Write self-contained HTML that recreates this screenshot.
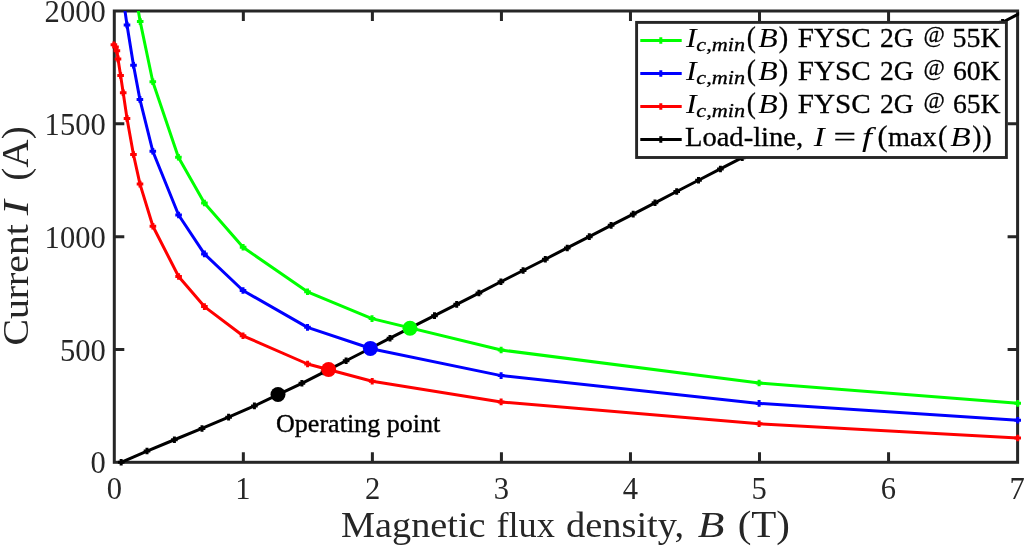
<!DOCTYPE html>
<html lang="en"><head><meta charset="utf-8"><title>Load-line and critical current</title>
<style>html,body{margin:0;padding:0;background:#fff}svg{display:block}</style></head>
<body>
<svg width="1025" height="547" viewBox="0 0 1025 547">
<rect width="1025" height="547" fill="#fff"/>
<defs><clipPath id="ax"><rect x="114.30" y="11.00" width="904.80" height="453.30"/></clipPath></defs>
<path d="M243.34 462.30V452.30M243.34 11.00V21.00M372.39 462.30V452.30M372.39 11.00V21.00M501.43 462.30V452.30M501.43 11.00V21.00M630.47 462.30V452.30M630.47 11.00V21.00M759.51 462.30V452.30M759.51 11.00V21.00M888.56 462.30V452.30M888.56 11.00V21.00M114.30 349.48H124.30M1017.60 349.48H1007.60M114.30 236.65H124.30M1017.60 236.65H1007.60M114.30 123.82H124.30M1017.60 123.82H1007.60" fill="none" stroke="#262626" stroke-width="3.00"/>
<rect x="114.30" y="11.00" width="903.30" height="451.30" fill="none" stroke="#262626" stroke-width="3.00"/>
<g font-family="'Liberation Serif', 'Times New Roman', serif">
<text x="106.66" y="499.40" font-size="31.50" textLength="15.28" lengthAdjust="spacingAndGlyphs" fill="#262626">0</text>
<text x="235.25" y="499.40" font-size="31.50" textLength="15.28" lengthAdjust="spacingAndGlyphs" fill="#262626">1</text>
<text x="364.90" y="499.40" font-size="31.50" textLength="15.28" lengthAdjust="spacingAndGlyphs" fill="#262626">2</text>
<text x="493.64" y="499.40" font-size="31.50" textLength="15.28" lengthAdjust="spacingAndGlyphs" fill="#262626">3</text>
<text x="622.76" y="499.40" font-size="31.50" textLength="15.28" lengthAdjust="spacingAndGlyphs" fill="#262626">4</text>
<text x="751.57" y="499.40" font-size="31.50" textLength="15.28" lengthAdjust="spacingAndGlyphs" fill="#262626">5</text>
<text x="880.69" y="499.40" font-size="31.50" textLength="15.28" lengthAdjust="spacingAndGlyphs" fill="#262626">6</text>
<text x="1009.43" y="499.40" font-size="31.50" textLength="15.28" lengthAdjust="spacingAndGlyphs" fill="#262626">7</text>
<text x="90.44" y="473.40" font-size="31.50" textLength="15.28" lengthAdjust="spacingAndGlyphs" fill="#262626">0</text>
<text x="59.89" y="360.58" font-size="31.50" textLength="45.83" lengthAdjust="spacingAndGlyphs" fill="#262626">500</text>
<text x="44.61" y="247.75" font-size="31.50" textLength="61.11" lengthAdjust="spacingAndGlyphs" fill="#262626">1000</text>
<text x="44.61" y="134.92" font-size="31.50" textLength="61.11" lengthAdjust="spacingAndGlyphs" fill="#262626">1500</text>
<text x="44.61" y="22.10" font-size="31.50" textLength="61.11" lengthAdjust="spacingAndGlyphs" fill="#262626">2000</text>
</g>
<g clip-path="url(#ax)">
<polyline points="136.40,0.00 140.20,21.60 152.80,81.80 178.40,157.30 204.40,203.00 243.10,247.30 307.50,291.80 372.00,318.60 501.10,350.00 759.10,383.00 1017.70,403.35" fill="none" stroke="#00ff00" stroke-width="3.00" stroke-linejoin="round"/>
<polyline points="123.40,0.00 127.00,25.00 133.50,65.20 139.90,99.40 152.80,151.25 178.60,215.00 204.40,253.90 243.00,290.50 307.50,327.35 372.40,349.00 501.10,375.60 759.10,403.40 1017.70,420.25" fill="none" stroke="#0000ff" stroke-width="3.00" stroke-linejoin="round"/>
<polyline points="113.90,44.80 115.50,47.00 116.90,50.80 118.00,58.90 120.60,75.50 123.20,92.70 127.00,118.40 133.45,154.50 140.00,184.10 152.90,226.30 178.60,276.50 204.40,306.60 243.00,335.80 307.60,364.00 372.20,381.25 501.10,401.90 759.10,423.75 1017.70,438.00" fill="none" stroke="#ff0000" stroke-width="3.00" stroke-linejoin="round"/>
<polyline points="121.15,462.30 147.00,451.02 174.40,439.74 202.00,428.45 228.60,417.17 254.40,405.89 278.00,394.61 301.90,383.32 324.00,372.04 346.10,360.76 368.10,349.48 390.00,338.19 412.20,326.91 434.50,315.63 456.70,304.35 478.90,293.06 500.90,281.78 523.10,270.50 545.30,259.22 567.25,247.93 589.30,236.65 611.10,225.37 633.20,214.09 655.00,202.80 676.70,191.52 698.50,180.24 720.40,168.95 742.20,157.67 763.90,146.39 785.60,135.11 807.30,123.82 829.00,112.54 850.70,101.26 872.40,89.98 894.10,78.69 915.80,67.41 937.50,56.13 959.20,44.85 980.90,33.56 1002.60,22.28 1024.30,11.00" fill="none" stroke="#000000" stroke-width="3.00" stroke-linejoin="round"/>
</g>
<path d="M136.90 21.60H143.50M140.20 18.30V24.90M149.50 81.80H156.10M152.80 78.50V85.10M175.10 157.30H181.70M178.40 154.00V160.60M201.10 203.00H207.70M204.40 199.70V206.30M239.80 247.30H246.40M243.10 244.00V250.60M304.20 291.80H310.80M307.50 288.50V295.10M368.70 318.60H375.30M372.00 315.30V321.90M497.80 350.00H504.40M501.10 346.70V353.30M755.80 383.00H762.40M759.10 379.70V386.30M1014.40 403.35H1021.00M1017.70 400.05V406.65" fill="none" stroke="#00ff00" stroke-width="3.00"/>
<path d="M123.70 25.00H130.30M127.00 21.70V28.30M130.20 65.20H136.80M133.50 61.90V68.50M136.60 99.40H143.20M139.90 96.10V102.70M149.50 151.25H156.10M152.80 147.95V154.55M175.30 215.00H181.90M178.60 211.70V218.30M201.10 253.90H207.70M204.40 250.60V257.20M239.70 290.50H246.30M243.00 287.20V293.80M304.20 327.35H310.80M307.50 324.05V330.65M369.10 349.00H375.70M372.40 345.70V352.30M497.80 375.60H504.40M501.10 372.30V378.90M755.80 403.40H762.40M759.10 400.10V406.70M1014.40 420.25H1021.00M1017.70 416.95V423.55" fill="none" stroke="#0000ff" stroke-width="3.00"/>
<path d="M110.60 44.80H117.20M113.90 41.50V48.10M112.20 47.00H118.80M115.50 43.70V50.30M113.60 50.80H120.20M116.90 47.50V54.10M114.70 58.90H121.30M118.00 55.60V62.20M117.30 75.50H123.90M120.60 72.20V78.80M119.90 92.70H126.50M123.20 89.40V96.00M123.70 118.40H130.30M127.00 115.10V121.70M130.15 154.50H136.75M133.45 151.20V157.80M136.70 184.10H143.30M140.00 180.80V187.40M149.60 226.30H156.20M152.90 223.00V229.60M175.30 276.50H181.90M178.60 273.20V279.80M201.10 306.60H207.70M204.40 303.30V309.90M239.70 335.80H246.30M243.00 332.50V339.10M304.30 364.00H310.90M307.60 360.70V367.30M368.90 381.25H375.50M372.20 377.95V384.55M497.80 401.90H504.40M501.10 398.60V405.20M755.80 423.75H762.40M759.10 420.45V427.05M1014.40 438.00H1021.00M1017.70 434.70V441.30" fill="none" stroke="#ff0000" stroke-width="3.00"/>
<path d="M117.85 462.30H124.45M121.15 459.00V465.60M143.70 451.02H150.30M147.00 447.72V454.32M171.10 439.74H177.70M174.40 436.44V443.04M198.70 428.45H205.30M202.00 425.15V431.75M225.30 417.17H231.90M228.60 413.87V420.47M251.10 405.89H257.70M254.40 402.59V409.19M274.70 394.61H281.30M278.00 391.31V397.91M298.60 383.32H305.20M301.90 380.02V386.62M320.70 372.04H327.30M324.00 368.74V375.34M342.80 360.76H349.40M346.10 357.46V364.06M364.80 349.48H371.40M368.10 346.18V352.78M386.70 338.19H393.30M390.00 334.89V341.49M408.90 326.91H415.50M412.20 323.61V330.21M431.20 315.63H437.80M434.50 312.33V318.93M453.40 304.35H460.00M456.70 301.05V307.65M475.60 293.06H482.20M478.90 289.76V296.36M497.60 281.78H504.20M500.90 278.48V285.08M519.80 270.50H526.40M523.10 267.20V273.80M542.00 259.22H548.60M545.30 255.92V262.52M563.95 247.93H570.55M567.25 244.63V251.23M586.00 236.65H592.60M589.30 233.35V239.95M607.80 225.37H614.40M611.10 222.07V228.67M629.90 214.09H636.50M633.20 210.78V217.39M651.70 202.80H658.30M655.00 199.50V206.10M673.40 191.52H680.00M676.70 188.22V194.82M695.20 180.24H701.80M698.50 176.94V183.54M717.10 168.95H723.70M720.40 165.65V172.25M738.90 157.67H745.50M742.20 154.37V160.97M760.60 146.39H767.20M763.90 143.09V149.69M782.30 135.11H788.90M785.60 131.81V138.41M804.00 123.82H810.60M807.30 120.52V127.12M825.70 112.54H832.30M829.00 109.24V115.84M847.40 101.26H854.00M850.70 97.96V104.56M869.10 89.98H875.70M872.40 86.68V93.28M890.80 78.69H897.40M894.10 75.39V81.99M912.50 67.41H919.10M915.80 64.11V70.71M934.20 56.13H940.80M937.50 52.83V59.43M955.90 44.85H962.50M959.20 41.55V48.15M977.60 33.56H984.20M980.90 30.26V36.86M999.30 22.28H1005.90M1002.60 18.98V25.58" fill="none" stroke="#000000" stroke-width="3.00"/>
<circle cx="410.00" cy="328.30" r="7.5" fill="#00ff00"/>
<circle cx="370.40" cy="348.40" r="7.5" fill="#0000ff"/>
<circle cx="328.60" cy="369.50" r="7.5" fill="#ff0000"/>
<circle cx="278.00" cy="394.50" r="7.5" fill="#000000"/>
<g font-family="'Liberation Serif', 'Times New Roman', serif">
<text x="275.96" y="431.60" font-size="25.60" textLength="164.35" lengthAdjust="spacingAndGlyphs" fill="#000" stroke="#000" stroke-width="0.35">Operating point</text>
<text x="341.05" y="537.20" font-size="35.20" textLength="144.45" lengthAdjust="spacingAndGlyphs" fill="#262626">Magnetic</text>
<text x="496.41" y="537.20" font-size="35.20" textLength="58.59" lengthAdjust="spacingAndGlyphs" fill="#262626">flux</text>
<text x="565.95" y="537.20" font-size="35.20" textLength="118.20" lengthAdjust="spacingAndGlyphs" fill="#262626">density,</text>
<text x="697.76" y="537.20" font-size="35.20" font-style="italic" textLength="26.65" lengthAdjust="spacingAndGlyphs" fill="#262626">B</text>
<text x="737.65" y="537.20" font-size="37.20" textLength="52.36" lengthAdjust="spacingAndGlyphs" fill="#262626">(T)</text>
<g transform="translate(27.5 344) rotate(-90)">
<text x="-1.59" y="0.00" font-size="35.20" textLength="121.48" lengthAdjust="spacingAndGlyphs" fill="#262626">Current</text>
<text x="128.73" y="0.00" font-size="35.20" font-style="italic" textLength="15.10" lengthAdjust="spacingAndGlyphs" fill="#262626">I</text>
<text x="163.23" y="0.00" font-size="37.20" textLength="54.57" lengthAdjust="spacingAndGlyphs" fill="#262626">(A)</text>
</g>
</g>
<rect x="636.60" y="22.40" width="369.80" height="135.10" fill="#fff" stroke="#262626" stroke-width="2.90"/>
<path d="M640.3 40.50H681.7M660.8 37.20V43.80" stroke="#00ff00" stroke-width="3.00" fill="none"/>
<path d="M640.3 73.50H681.7M660.8 70.20V76.80" stroke="#0000ff" stroke-width="3.00" fill="none"/>
<path d="M640.3 106.50H681.7M660.8 103.20V109.80" stroke="#ff0000" stroke-width="3.00" fill="none"/>
<path d="M640.3 139.50H681.7M660.8 136.20V142.80" stroke="#000000" stroke-width="3.00" fill="none"/>
<g font-family="'Liberation Serif', 'Times New Roman', serif">
<text x="686.06" y="47.20" font-size="27.30" font-style="italic" textLength="10.57" lengthAdjust="spacingAndGlyphs" fill="#000">I</text>
<text x="696.33" y="51.30" font-size="19.11" font-style="italic" textLength="48.74" lengthAdjust="spacingAndGlyphs" fill="#000" stroke="#000" stroke-width="0.30">c,min</text>
<text x="746.76" y="47.20" font-size="29.50" textLength="9.14" lengthAdjust="spacingAndGlyphs" fill="#000" stroke="#000" stroke-width="0.30">(</text>
<text x="758.18" y="47.20" font-size="27.30" font-style="italic" textLength="19.48" lengthAdjust="spacingAndGlyphs" fill="#000">B</text>
<text x="778.75" y="47.20" font-size="29.50" textLength="9.48" lengthAdjust="spacingAndGlyphs" fill="#000" stroke="#000" stroke-width="0.30">)</text>
<text x="797.73" y="47.20" font-size="27.30" textLength="72.92" lengthAdjust="spacingAndGlyphs" fill="#000" stroke="#000" stroke-width="0.30">FYSC</text>
<text x="879.96" y="47.20" font-size="27.30" textLength="33.73" lengthAdjust="spacingAndGlyphs" fill="#000" stroke="#000" stroke-width="0.30">2G</text>
<text x="923.52" y="42.40" font-size="23.00" textLength="21.36" lengthAdjust="spacingAndGlyphs" fill="#000" stroke="#000" stroke-width="0.30">@</text>
<text x="952.52" y="47.20" font-size="27.30" textLength="48.12" lengthAdjust="spacingAndGlyphs" fill="#000" stroke="#000" stroke-width="0.30">55K</text>
<text x="686.06" y="80.20" font-size="27.30" font-style="italic" textLength="10.57" lengthAdjust="spacingAndGlyphs" fill="#000">I</text>
<text x="696.33" y="84.30" font-size="19.11" font-style="italic" textLength="48.74" lengthAdjust="spacingAndGlyphs" fill="#000" stroke="#000" stroke-width="0.30">c,min</text>
<text x="746.76" y="80.20" font-size="29.50" textLength="9.14" lengthAdjust="spacingAndGlyphs" fill="#000" stroke="#000" stroke-width="0.30">(</text>
<text x="758.18" y="80.20" font-size="27.30" font-style="italic" textLength="19.48" lengthAdjust="spacingAndGlyphs" fill="#000">B</text>
<text x="778.75" y="80.20" font-size="29.50" textLength="9.48" lengthAdjust="spacingAndGlyphs" fill="#000" stroke="#000" stroke-width="0.30">)</text>
<text x="797.73" y="80.20" font-size="27.30" textLength="72.92" lengthAdjust="spacingAndGlyphs" fill="#000" stroke="#000" stroke-width="0.30">FYSC</text>
<text x="879.96" y="80.20" font-size="27.30" textLength="33.73" lengthAdjust="spacingAndGlyphs" fill="#000" stroke="#000" stroke-width="0.30">2G</text>
<text x="923.52" y="75.40" font-size="23.00" textLength="21.36" lengthAdjust="spacingAndGlyphs" fill="#000" stroke="#000" stroke-width="0.30">@</text>
<text x="952.95" y="80.20" font-size="27.30" textLength="47.68" lengthAdjust="spacingAndGlyphs" fill="#000" stroke="#000" stroke-width="0.30">60K</text>
<text x="686.06" y="113.20" font-size="27.30" font-style="italic" textLength="10.57" lengthAdjust="spacingAndGlyphs" fill="#000">I</text>
<text x="696.33" y="117.30" font-size="19.11" font-style="italic" textLength="48.74" lengthAdjust="spacingAndGlyphs" fill="#000" stroke="#000" stroke-width="0.30">c,min</text>
<text x="746.76" y="113.20" font-size="29.50" textLength="9.14" lengthAdjust="spacingAndGlyphs" fill="#000" stroke="#000" stroke-width="0.30">(</text>
<text x="758.18" y="113.20" font-size="27.30" font-style="italic" textLength="19.48" lengthAdjust="spacingAndGlyphs" fill="#000">B</text>
<text x="778.75" y="113.20" font-size="29.50" textLength="9.48" lengthAdjust="spacingAndGlyphs" fill="#000" stroke="#000" stroke-width="0.30">)</text>
<text x="797.73" y="113.20" font-size="27.30" textLength="72.92" lengthAdjust="spacingAndGlyphs" fill="#000" stroke="#000" stroke-width="0.30">FYSC</text>
<text x="879.96" y="113.20" font-size="27.30" textLength="33.73" lengthAdjust="spacingAndGlyphs" fill="#000" stroke="#000" stroke-width="0.30">2G</text>
<text x="923.52" y="108.40" font-size="23.00" textLength="21.36" lengthAdjust="spacingAndGlyphs" fill="#000" stroke="#000" stroke-width="0.30">@</text>
<text x="952.95" y="113.20" font-size="27.30" textLength="47.68" lengthAdjust="spacingAndGlyphs" fill="#000" stroke="#000" stroke-width="0.30">65K</text>
<text x="684.94" y="146.20" font-size="27.30" textLength="118.24" lengthAdjust="spacingAndGlyphs" fill="#000" stroke="#000" stroke-width="0.30">Load-line,</text>
<text x="813.66" y="146.20" font-size="27.30" font-style="italic" textLength="10.92" lengthAdjust="spacingAndGlyphs" fill="#000">I</text>
<text x="833.40" y="146.20" font-size="27.30" textLength="22.56" lengthAdjust="spacingAndGlyphs" fill="#000" stroke="#000" stroke-width="0.30">=</text>
<text x="862.14" y="146.20" font-size="27.30" font-style="italic" textLength="10.02" lengthAdjust="spacingAndGlyphs" fill="#000">f</text>
<text x="877.54" y="146.20" font-size="29.50" textLength="10.06" lengthAdjust="spacingAndGlyphs" fill="#000" stroke="#000" stroke-width="0.30">(</text>
<text x="887.94" y="146.20" font-size="27.30" textLength="48.60" lengthAdjust="spacingAndGlyphs" fill="#000" stroke="#000" stroke-width="0.30">max</text>
<text x="938.03" y="146.20" font-size="29.50" textLength="9.40" lengthAdjust="spacingAndGlyphs" fill="#000" stroke="#000" stroke-width="0.30">(</text>
<text x="950.27" y="146.20" font-size="27.30" font-style="italic" textLength="20.43" lengthAdjust="spacingAndGlyphs" fill="#000">B</text>
<text x="972.27" y="146.20" font-size="29.50" textLength="9.22" lengthAdjust="spacingAndGlyphs" fill="#000" stroke="#000" stroke-width="0.30">)</text>
<text x="982.15" y="146.20" font-size="29.50" textLength="9.48" lengthAdjust="spacingAndGlyphs" fill="#000" stroke="#000" stroke-width="0.30">)</text>
</g>
</svg>
</body></html>
